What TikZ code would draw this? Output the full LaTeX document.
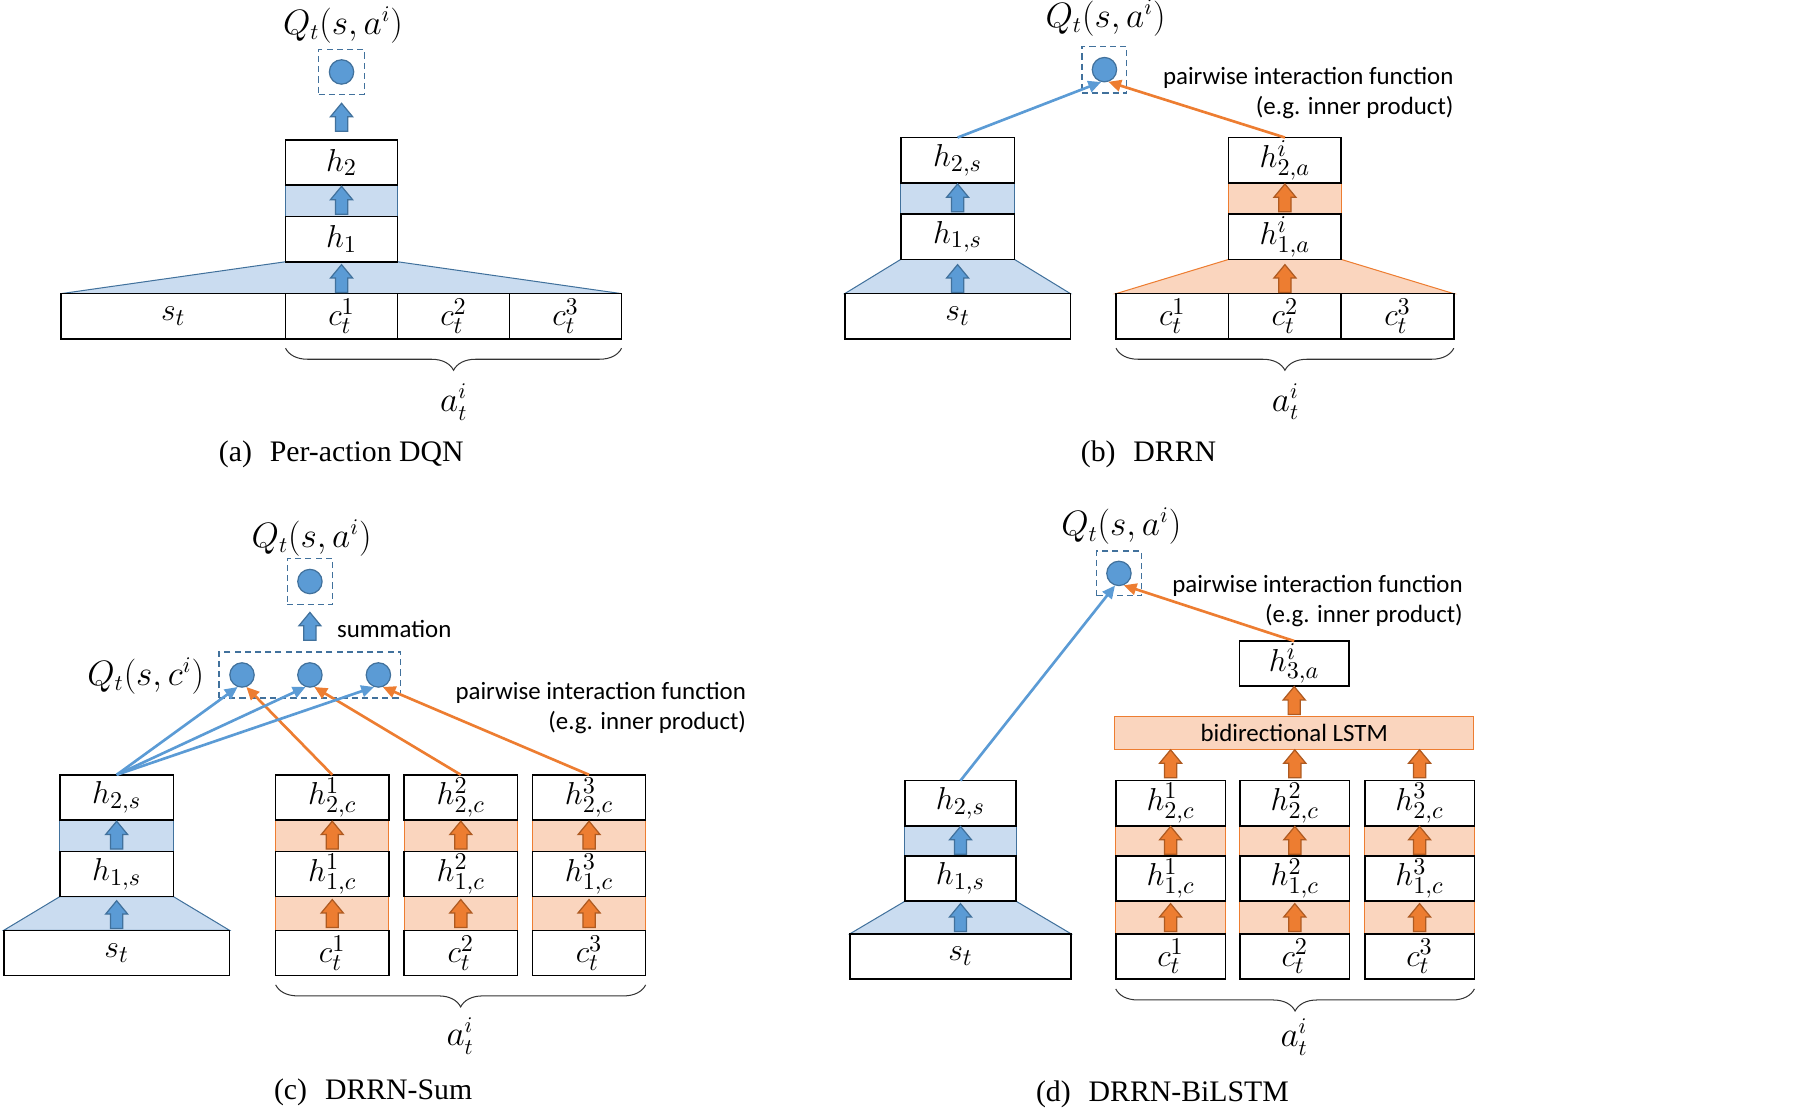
\documentclass[tikz,border=0pt]{standalone}
\usepackage{fontspec}
\usepackage{graphicx}
\newfontfamily\capfont{Liberation Serif}
\newfontfamily\notefont{Carlito}
\usepackage{tikz}
\usetikzlibrary{
  positioning, calc, backgrounds, arrows.meta, decorations.pathreplacing
}
\definecolor{qblue}{HTML}{5B9BD5}
\definecolor{qbluedk}{HTML}{41719C}
\definecolor{qbluelt}{HTML}{CADCF0}
\definecolor{qorange}{HTML}{ED7D31}
\definecolor{qorangedk}{HTML}{AE5A21}
\definecolor{qorangelt}{HTML}{FAD5BE}
\newcommand{\lbl}[1]{\scalebox{1.08}{$#1$}}
\tikzstyle{layer} = [
  rectangle, draw=black, line width=0.8pt, fill=white,
  minimum height=0.78cm, inner sep=0pt, outer sep=0pt,
  font=\fontsize{15}{18}\selectfont
]
\tikzstyle{outnode} = [circle, draw=qbluedk, fill=qblue, line width=0.6pt, minimum size=0.42cm, inner sep=0pt]
\tikzstyle{outbox} = [rectangle, draw=qbluedk, dash pattern=on 3pt off 2pt, line width=0.7pt, inner sep=0pt]
\tikzstyle{qlabel} = [font=\fontsize{16}{19}\selectfont]
\tikzstyle{note} = [font=\notefont\fontsize{12.2}{14.7}\selectfont, align=right, inner sep=0pt]
\tikzstyle{caption} = [font=\capfont\fontsize{14.6}{17}\selectfont]
\tikzstyle{bluelink} = [-{Triangle[length=0.22cm, width=0.2cm]}, qblue, line width=1.3pt]
\tikzstyle{orangelink} = [-{Triangle[length=0.22cm, width=0.2cm]}, qorange, line width=1.3pt]
\tikzstyle{bandb} = [fill=qbluelt, draw=qbluedk, line width=0.5pt]
\tikzstyle{bando} = [fill=qorangelt, draw=qorange, line width=0.5pt]
\tikzstyle{actbrace} = [decorate, decoration={brace, mirror, amplitude=0.38cm}, line width=0.5pt, draw=black!80]
\tikzset{
  pics/lift/.style={code={
    \draw[line width=0.6pt, draw=#1dk, fill=#1]
      (-0.105,0) -- (-0.105,0.25) -- (-0.19,0.25) -- (0,0.48)
      -- (0.19,0.25) -- (0.105,0.25) -- (0.105,0) -- cycle;
  }}
}

\begin{document}
\begin{tikzpicture}
  \useasboundingbox (0,0) rectangle (31.36,-19.11);

  % (a) Per-action DQN
  \node[qlabel] (a-qlab) at (5.91,-0.43) {$Q_t(s,a^i)$};
  \node[outnode] (a-q) at (5.885,-1.24) {};
  \node[outbox, minimum width=0.79cm, minimum height=0.77cm] (a-qbox) at (a-q) {};
  \node[layer, minimum width=1.93cm] (a-h2) at (5.885,-2.80) {\lbl{h_2}};
  \node[layer, minimum width=1.93cm, below=0.54cm of a-h2] (a-h1) {\lbl{h_1}};
  \node[layer, minimum width=1.93cm, below=0.55cm of a-h1] (a-c1) {\lbl{c_t^1}};
  \node[layer, minimum width=1.93cm, right=0pt of a-c1] (a-c2) {\lbl{c_t^2}};
  \node[layer, minimum width=1.93cm, right=0pt of a-c2] (a-c3) {\lbl{c_t^3}};
  \node[layer, minimum width=3.87cm, left=0pt of a-c1] (a-st) {\lbl{s_t}};
  \begin{scope}[on background layer]
    \draw[bandb] (a-h2.south west) rectangle (a-h1.north east);
    \draw[bandb] (a-h1.south west) -- (a-h1.south east) -- (a-c3.north east) -- (a-st.north west) -- cycle;
  \end{scope}
  \pic at ([yshift=0.15cm]a-h2.north) {lift=qblue};
  \pic at ([yshift=0.04cm]a-h1.north) {lift=qblue};
  \pic at ([yshift=0.02cm]a-c1.north) {lift=qblue};
  \draw[actbrace] ([yshift=-0.16cm]a-c1.south west) -- ([yshift=-0.16cm]a-c3.south east);
  \node[qlabel] (a-act) at (7.82,-6.93) {$a_t^i$};
  \node[caption] (a-cap) at (5.88,-7.82) {(a)\hskip0.6em Per-action DQN};

  % (b) DRRN
  \node[qlabel] (b-qlab) at (19.05,-0.31) {$Q_t(s,a^i)$};
  \node[outnode] (b-q) at (19.03,-1.20) {};
  \node[outbox, minimum width=0.77cm, minimum height=0.8cm] (b-qbox) at (b-q) {};
  \node[layer, minimum width=1.96cm] (b-h2s) at (16.5,-2.76) {\lbl{h_{2,s}}};
  \node[layer, minimum width=1.96cm, below=0.54cm of b-h2s] (b-h1s) {\lbl{h_{1,s}}};
  \node[layer, minimum width=3.89cm, below=0.59cm of b-h1s] (b-st) {\lbl{s_t}};
  \node[layer, minimum width=1.94cm] (b-h2a) at (22.14,-2.76) {\lbl{h_{2,a}^i}};
  \node[layer, minimum width=1.94cm, below=0.54cm of b-h2a] (b-h1a) {\lbl{h_{1,a}^i}};
  \node[layer, minimum width=1.94cm, below=0.59cm of b-h1a] (b-c2) {\lbl{c_t^2}};
  \node[layer, minimum width=1.94cm, left=0pt of b-c2] (b-c1) {\lbl{c_t^1}};
  \node[layer, minimum width=1.94cm, right=0pt of b-c2] (b-c3) {\lbl{c_t^3}};
  \begin{scope}[on background layer]
    \draw[bandb] (b-h2s.south west) rectangle (b-h1s.north east);
    \draw[bandb] (b-h1s.south west) -- (b-h1s.south east) -- (b-st.north east) -- (b-st.north west) -- cycle;
    \draw[bando] (b-h2a.south west) rectangle (b-h1a.north east);
    \draw[bando] (b-h1a.south west) -- (b-h1a.south east) -- (b-c3.north east) -- (b-c1.north west) -- cycle;
  \end{scope}
  \pic at ([yshift=0.04cm]b-h1s.north) {lift=qblue};
  \pic at ([yshift=0.02cm]b-st.north) {lift=qblue};
  \pic at ([yshift=0.04cm]b-h1a.north) {lift=qorange};
  \pic at ([yshift=0.02cm]b-c2.north) {lift=qorange};
  \draw[bluelink] (b-h2s.north) -- (b-q.255);
  \draw[orangelink] (b-h2a.north) -- (b-q.288);
  \node[note, anchor=east] (b-note) at (25.05,-1.60) {pairwise interaction function\\(e.g. inner product)};
  \draw[actbrace] ([yshift=-0.16cm]b-c1.south west) -- ([yshift=-0.16cm]b-c3.south east);
  \node[qlabel] (b-act) at (22.15,-6.92) {$a_t^i$};
  \node[caption] (b-cap) at (19.79,-7.82) {(b)\hskip0.6em DRRN};

  % (c) DRRN-Sum
  \node[qlabel] (c-qlab) at (5.37,-9.27) {$Q_t(s,a^i)$};
  \node[outnode] (c-q) at (5.34,-10.02) {};
  \node[outbox, minimum width=0.78cm, minimum height=0.79cm] (c-qbox) at (c-q) {};
  \node[outnode] (c-q1) at (4.17,-11.63) {};
  \node[outnode] (c-q2) at (5.34,-11.63) {};
  \node[outnode] (c-q3) at (6.52,-11.63) {};
  \node[outbox, minimum width=3.13cm, minimum height=0.79cm] (c-qrow) at (c-q2) {};
  \node[qlabel] (c-qclab) at (2.51,-11.65) {$Q_t(s,c^i)$};
  \pic at ([yshift=0.19cm]c-qrow.north) {lift=qblue};
  \node[note, anchor=west] (c-sum) at (5.80,-10.84) {summation};
  \node[layer, minimum width=1.96cm] (c-h2s) at (2.01,-13.74) {\lbl{h_{2,s}}};
  \node[layer, minimum width=1.96cm, below=0.54cm of c-h2s] (c-h1s) {\lbl{h_{1,s}}};
  \node[layer, minimum width=3.89cm, below=0.58cm of c-h1s] (c-st) {\lbl{s_t}};
  \foreach \i/\x in {1/5.725, 2/7.94, 3/10.15} {
    \node[layer, minimum width=1.95cm] (c-h2c\i) at (\x,-13.74) {\lbl{h_{2,c}^{\i}}};
    \node[layer, minimum width=1.95cm, below=0.54cm of c-h2c\i] (c-h1c\i) {\lbl{h_{1,c}^{\i}}};
    \node[layer, minimum width=1.95cm, below=0.58cm of c-h1c\i] (c-c\i) {\lbl{c_t^{\i}}};
  }
  \begin{scope}[on background layer]
    \draw[bandb] (c-h2s.south west) rectangle (c-h1s.north east);
    \draw[bandb] (c-h1s.south west) -- (c-h1s.south east) -- (c-st.north east) -- (c-st.north west) -- cycle;
    \foreach \i in {1,2,3} {
      \draw[bando] (c-h2c\i.south west) rectangle (c-h1c\i.north east);
      \draw[bando] (c-h1c\i.south west) rectangle (c-c\i.north east);
    }
  \end{scope}
  \pic at ([yshift=0.04cm]c-h1s.north) {lift=qblue};
  \pic at ([yshift=0.03cm]c-st.north) {lift=qblue};
  \foreach \i in {1,2,3} {
    \pic at ([yshift=0.04cm]c-h1c\i.north) {lift=qorange};
    \pic at ([yshift=0.05cm]c-c\i.north) {lift=qorange};
    \draw[bluelink] (c-h2s.north) -- (c-q\i.250);
    \draw[orangelink] (c-h2c\i.north) -- (c-q\i.290);
  }
  \node[note, anchor=east] (c-note) at (12.86,-12.20) {pairwise interaction function\\(e.g. inner product)};
  \draw[actbrace] ([yshift=-0.16cm]c-c1.south west) -- ([yshift=-0.16cm]c-c3.south east);
  \node[qlabel] (c-act) at (7.93,-17.85) {$a_t^i$};
  \node[caption] (c-cap) at (6.43,-18.83) {(c)\hskip0.6em DRRN-Sum};

  % (d) DRRN-BiLSTM
  \node[qlabel] (d-qlab) at (19.32,-9.07) {$Q_t(s,a^i)$};
  \node[outnode] (d-q) at (19.28,-9.88) {};
  \node[outbox, minimum width=0.77cm, minimum height=0.77cm] (d-qbox) at (d-q) {};
  \node[layer, minimum width=1.89cm] (d-h3a) at (22.3,-11.435) {\lbl{h_{3,a}^i}};
  \node[layer, bando, minimum width=6.19cm, minimum height=0.56cm, font=\notefont\fontsize{12.2}{14.7}\selectfont] (d-lstm) at (22.3,-12.63) {bidirectional LSTM};
  \node[layer, minimum width=1.92cm] (d-h2s) at (16.55,-13.84) {\lbl{h_{2,s}}};
  \node[layer, minimum width=1.92cm, below=0.52cm of d-h2s] (d-h1s) {\lbl{h_{1,s}}};
  \node[layer, minimum width=3.81cm, below=0.56cm of d-h1s] (d-st) {\lbl{s_t}};
  \foreach \i/\x in {1/20.17, 2/22.31, 3/24.46} {
    \node[layer, minimum width=1.89cm] (d-h2c\i) at (\x,-13.84) {\lbl{h_{2,c}^{\i}}};
    \node[layer, minimum width=1.89cm, below=0.52cm of d-h2c\i] (d-h1c\i) {\lbl{h_{1,c}^{\i}}};
    \node[layer, minimum width=1.89cm, below=0.56cm of d-h1c\i] (d-c\i) {\lbl{c_t^{\i}}};
  }
  \begin{scope}[on background layer]
    \draw[bandb] (d-h2s.south west) rectangle (d-h1s.north east);
    \draw[bandb] (d-h1s.south west) -- (d-h1s.south east) -- (d-st.north east) -- (d-st.north west) -- cycle;
    \foreach \i in {1,2,3} {
      \draw[bando] (d-h2c\i.south west) rectangle (d-h1c\i.north east);
      \draw[bando] (d-h1c\i.south west) rectangle (d-c\i.north east);
    }
  \end{scope}
  \pic at ([yshift=0.04cm]d-lstm.north) {lift=qorange};
  \pic at ([yshift=0.03cm]d-h1s.north) {lift=qblue};
  \pic at ([yshift=0.04cm]d-st.north) {lift=qblue};
  \foreach \i in {1,2,3} {
    \pic at ([yshift=0.05cm]d-h2c\i.north) {lift=qorange};
    \pic at ([yshift=0.03cm]d-h1c\i.north) {lift=qorange};
    \pic at ([yshift=0.04cm]d-c\i.north) {lift=qorange};
  }
  \draw[bluelink] (d-h2s.north) -- (d-q.252);
  \draw[orangelink] (d-h3a.north) -- (d-q.292);
  \node[note, anchor=east] (d-note) at (25.21,-10.36) {pairwise interaction function\\(e.g. inner product)};
  \draw[actbrace] ([yshift=-0.17cm]d-c1.south west) -- ([yshift=-0.17cm]d-c3.south east);
  \node[qlabel] (d-act) at (22.3,-17.87) {$a_t^i$};
  \node[caption] (d-cap) at (20.03,-18.85) {(d)\hskip0.6em DRRN-BiLSTM};

\end{tikzpicture}
\end{document}
